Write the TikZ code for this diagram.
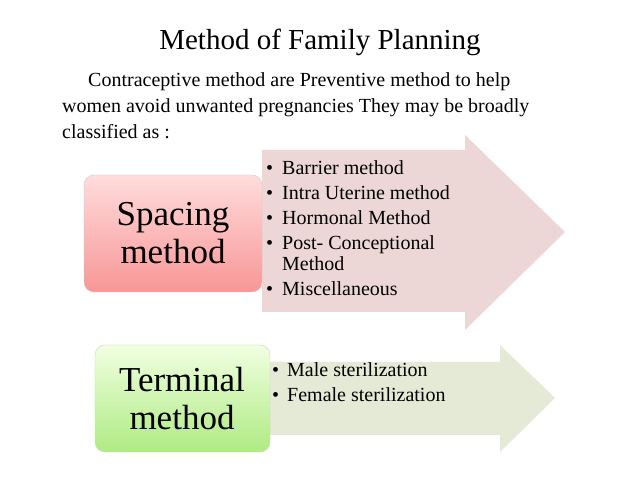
\documentclass[tikz,border=0pt]{standalone}
\usepackage{fontspec}
\setmainfont{Liberation Serif}
\begin{document}
\begin{tikzpicture}[x=1pt,y=-1pt,
  txt/.style={font=\fontsize{20}{24}\selectfont,inner sep=0pt,anchor=west,text height=0.7em,text depth=0.22em,yshift=-4pt},
  big/.style={font=\fontsize{35}{38}\selectfont,align=center}]
\useasboundingbox (0,0) rectangle (638,478);
\fill[white] (0,0) rectangle (638,478);
\node[font=\fontsize{29}{32}\selectfont] (title) at (320,42) {Method of Family Planning};
\node[txt] (p1) at (88,80) {Contraceptive method are Preventive method to help};
\node[txt] (p2) at (62,106) {women avoid unwanted pregnancies They may be broadly};
\node[txt] (p3) at (62,132) {classified as :};
% upper arrow
\fill[fill={rgb,255:red,236;green,214;blue,214}] (262,150) -- (465,150) -- (465,135) -- (565,232) -- (465,330) -- (465,312) -- (262,312) -- cycle;
\shade[top color={rgb,255:red,255;green,220;blue,220},bottom color={rgb,255:red,248;green,150;blue,150},draw={rgb,255:red,215;green,200;blue,200},rounded corners=10pt] (84,175) rectangle (262,292);
\node[big] (sp) at (173,233) {Spacing\\method};
\foreach \t/\y [count=\i] in {Barrier method/168,Intra Uterine method/193,Hormonal Method/218,Post- Conceptional/243,Miscellaneous/289}{
  \node[txt] (b\i) at (266,\y) {•};
  \node[txt] (t\i) at (282,\y) {\t};}
\node[txt] (t6) at (282,264) {Method};
% lower arrow
\fill[fill={rgb,255:red,228;green,234;blue,213}] (268,362) -- (500,362) -- (500,345) -- (555,398) -- (500,452) -- (500,435) -- (268,435) -- cycle;
\shade[top color={rgb,255:red,240;green,255;blue,225},bottom color={rgb,255:red,175;green,235;blue,130},draw={rgb,255:red,205;green,215;blue,195},rounded corners=10pt] (95,345) rectangle (270,452);
\node[big] (te) at (182,399) {Terminal\\method};
\node[txt] (c1) at (272,370) {•};
\node[txt] (d1) at (287,370) {Male sterilization};
\node[txt] (c2) at (272,395) {•};
\node[txt] (d2) at (287,395) {Female sterilization};
\end{tikzpicture}
\end{document}
